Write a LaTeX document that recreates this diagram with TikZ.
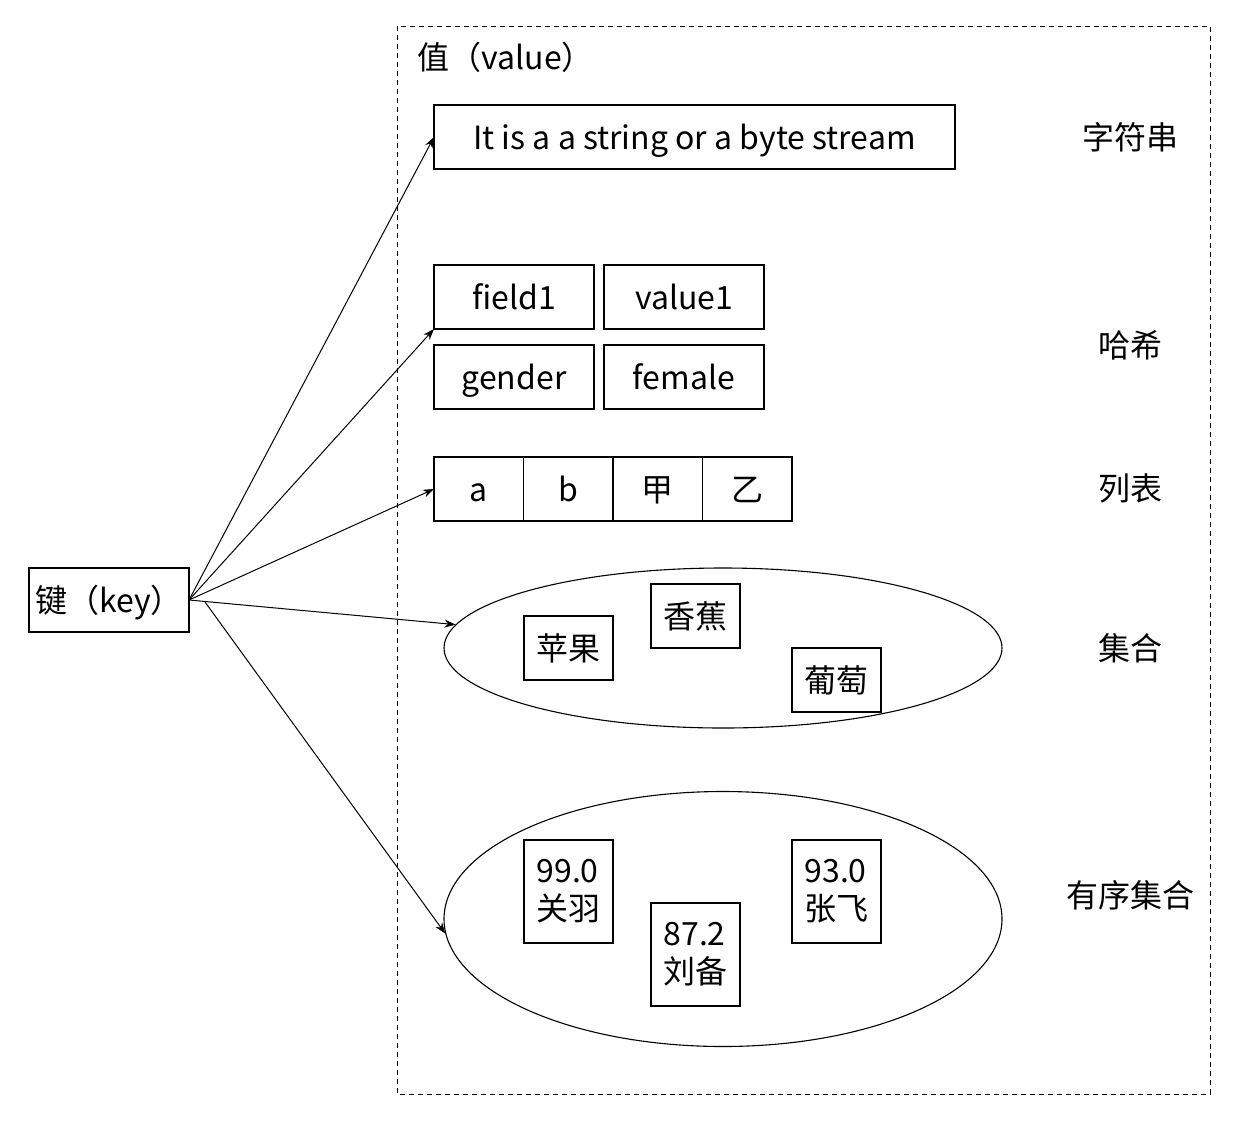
\documentclass[tikz,border=0pt]{standalone}
\usepackage{fontspec}
\setmainfont{Noto Sans CJK SC}
\usetikzlibrary{arrows.meta,positioning,shapes.geometric}
\newcommand{\cellHeight}{64pt}
\newcommand{\cellWidth}{160pt}
\newcommand{\listWidth}{89.5pt}
\newcommand{\setCellWidth}{89pt}
\newcommand{\labelX}{1130}

\begin{document}
\begin{tikzpicture}[x=1pt, y=-1pt,
    every node/.style={font=\fontsize{32}{38}\selectfont},
    cell/.style={draw, line width=1.3pt, inner sep=0pt, outer sep=0pt,
      minimum height=\cellHeight, text height=30pt, text depth=5pt},
    member/.style={cell, minimum width=\setCellWidth},
    scored/.style={draw, line width=1.3pt, inner sep=0pt, outer sep=0pt,
      minimum width=\setCellWidth, minimum height=103pt, align=left},
    pool/.style={draw, ellipse, line width=1.1pt, minimum width=558pt},
    link/.style={-{Stealth[length=11pt,width=8pt]}, line width=1pt}]
\useasboundingbox (0,0) rectangle (1250,1122);
% value frame
\draw[line width=1pt, dash pattern=on 5pt off 4pt] (397,26) rectangle (1210,1094);
\node[anchor=west] (vtitle) at (414,57) {值（value）};
% string
\node[cell, minimum width=521pt, anchor=north west] (str) at (434,105) {It is a a string or a byte stream};
\node (lblstr) at (\labelX,137) {字符串};
% hash
\node[cell, minimum width=\cellWidth, anchor=north west] (field) at (434,265) {field1};
\node[cell, minimum width=\cellWidth, right=10pt of field] (fval) {value1};
\node[cell, minimum width=\cellWidth, below=16pt of field] (gender) {gender};
\node[cell, minimum width=\cellWidth, right=10pt of gender] (female) {female};
\node (lblhash) at (\labelX,345) {哈希};
% list
\node[cell, minimum width=\listWidth, anchor=north west] (la) at (434,457) {a};
\node[cell, minimum width=\listWidth, right=0pt of la] (lb) {b};
\node[cell, minimum width=\listWidth, right=0pt of lb] (lc) {甲};
\node[cell, minimum width=\listWidth, right=0pt of lc] (ld) {乙};
\node (lbllist) at (\labelX,488) {列表};
% set
\node[pool, minimum height=160pt] (set) at (723,648) {};
\node[member, anchor=north west] (apple) at (524,616) {苹果};
\node[member, anchor=north west] (banana) at (651,584) {香蕉};
\node[member, anchor=north west] (grape) at (792,648) {葡萄};
\node (lblset) at (\labelX,648) {集合};
% sorted set
\node[pool, minimum height=255pt] (oset) at (723,919) {};
\node[scored, anchor=north west] (guan) at (524,840) {99.0\\关羽};
\node[scored, anchor=north west] (liu) at (651,903) {87.2\\刘备};
\node[scored, anchor=north west] (zhang) at (792,840) {93.0\\张飞};
\node (lbloset) at (\labelX,895) {有序集合};
% key
\node[cell, minimum width=\cellWidth, anchor=north west] (key) at (29,568) {键（key）};
\coordinate (keytail) at (205,602);
\draw[link] (key.east) -- (str.west);
\draw[link] (key.east) -- (field.south west);
\draw[link] (key.east) -- (la.west);
\draw[link] (key.east) -- (set.175);
\draw[link] (keytail) -- (oset.183);
\end{tikzpicture}
\end{document}
